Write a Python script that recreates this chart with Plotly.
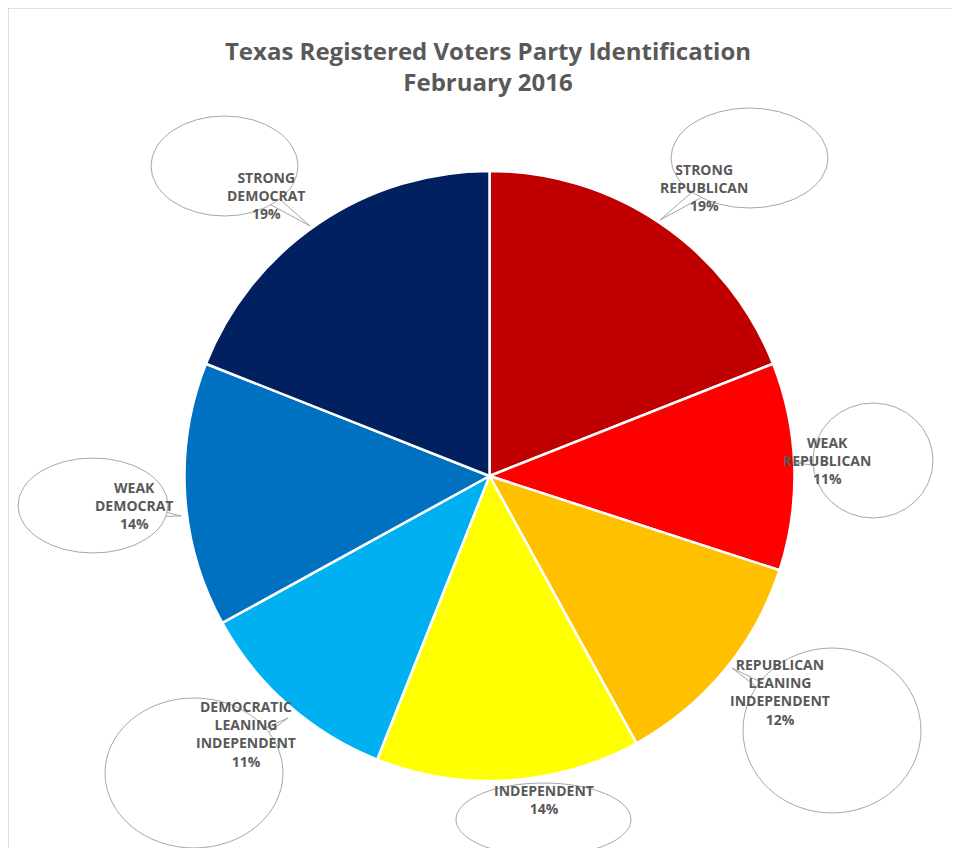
import plotly.graph_objects as go

W, H = 960, 848

labels = ["STRONG<br>REPUBLICAN", "WEAK<br>REPUBLICAN", "REPUBLICAN<br>LEANING<br>INDEPENDENT",
          "INDEPENDENT", "DEMOCRATIC<br>LEANING<br>INDEPENDENT", "WEAK<br>DEMOCRAT", "STRONG<br>DEMOCRAT"]
values = [19, 11, 12, 14, 11, 14, 19]
colors = ["#C00000", "#FF0000", "#FFC000", "#FFFF00", "#00B0F0", "#0070C0", "#002060"]

# bubble boxes in pixels: (x0, y0, x1, y1, tail tip x, tail tip y)
bubbles = [
    (663, 100, 820, 200, 652, 212),
    (805, 395, 925, 510, 788, 455),
    (735, 640, 913, 805, 724, 660),
    (448, 775, 623, 848, None, None),
    (97, 690, 275, 840, 280, 710),
    (10, 450, 160, 545, 173, 508),
    (143, 108, 290, 208, 302, 218),
]


def px(x):
    return x / W


def py(y):
    return 1 - y / H


fig = go.Figure(go.Pie(
    labels=labels, values=values, sort=False, direction="clockwise", rotation=0,
    marker=dict(colors=colors, line=dict(color="white", width=2.5)),
    textinfo="none", hoverinfo="label+percent", showlegend=False,
    domain=dict(x=[px(176), px(787)], y=[py(773), py(163)]),
))

shapes = []
annotations = []
for (x0, y0, x1, y1, tx, ty), lab, v in zip(bubbles, labels, values):
    cx, cy = (x0 + x1) / 2, (y0 + y1) / 2
    if tx is not None:
        # tail: triangle from bubble body to tip
        dx, dy = tx - cx, ty - cy
        n = (dx * dx + dy * dy) ** 0.5
        ox, oy = -dy / n * 12, dx / n * 12
        pts = [(cx + ox, cy + oy), (tx, ty), (cx - ox, cy - oy)]
        path = "M " + " L ".join(f"{px(a):.4f},{py(b):.4f}" for a, b in pts) + " Z"
        shapes.append(dict(type="path", path=path, xref="paper", yref="paper",
                           fillcolor="white", line=dict(color="#A6A6A6", width=1)))
    shapes.append(dict(type="circle", xref="paper", yref="paper",
                       x0=px(x0), x1=px(x1), y0=py(y1), y1=py(y0),
                       fillcolor="white", line=dict(color="#A6A6A6", width=1)))
    if tx is not None:
        # hide tail seam inside ellipse
        shapes.append(dict(type="circle", xref="paper", yref="paper",
                           x0=px(x0 + 1.5), x1=px(x1 - 1.5), y0=py(y1 - 1.5), y1=py(y0 + 1.5),
                           fillcolor="white", line=dict(width=0)))
    annotations.append(dict(x=px(cx), y=py(cy), xref="paper", yref="paper",
                            text=f"<b>{lab}<br>{v}%</b>", showarrow=False,
                            font=dict(family="Open Sans", size=14, color="#595959"),
                            align="center"))

shapes.append(dict(type="rect", xref="paper", yref="paper", x0=0, x1=1, y0=0, y1=1,
                   line=dict(color="#BFBFBF", width=1)))

fig.update_layout(
    width=W, height=H, margin=dict(l=0, r=0, t=0, b=0),
    paper_bgcolor="white",
    title=dict(text="<b>Texas Registered Voters Party Identification<br>February 2016</b>",
               x=0.5, y=py(52), xanchor="center", yanchor="middle",
               font=dict(family="Open Sans", size=24, color="#595959")),
    shapes=shapes, annotations=annotations,
)

fig.write_html("out.html")
